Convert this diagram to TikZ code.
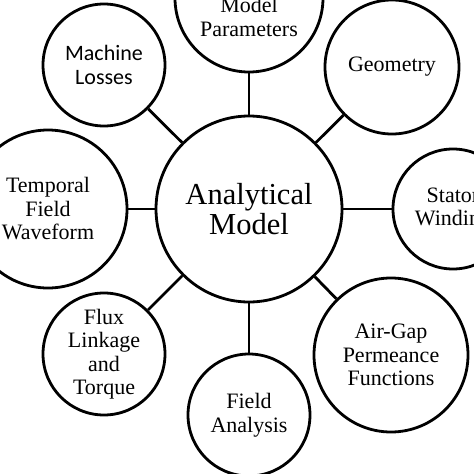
\documentclass[tikz,border=0pt]{standalone}
\usepackage{fontspec}
\setmainfont{Liberation Serif}
\newfontfamily\calib{Carlito}
\begin{document}
\begin{tikzpicture}[x=1pt,y=-1pt,
  bub/.style={circle,draw,line width=2.8pt,inner sep=0pt,align=center,
    font=\fontsize{22}{23.5}\selectfont},
  lbl/.style={align=center,inner sep=0pt,font=\fontsize{22}{23.5}\selectfont},
  link/.style={line width=2.8pt}]
\useasboundingbox (0,0) rectangle (474,474);
\clip (0,0) rectangle (474,474);
\node[bub,minimum size=186pt,font=\fontsize{30.5}{30}\selectfont] (am) at (249,209) {Analytical\\Model};
\node[bub,minimum size=148pt] (mp) at (249,-2) {};
\node[lbl] (mpt) at (249,17) {Model\\Parameters};
\node[bub,minimum size=134pt] (geo) at (392,67) {Geometry};
\node[bub,minimum size=120pt] (sw) at (453,209) {Stator\\Winding};
\node[bub,minimum size=154pt] (ag) at (391,355) {Air-Gap\\Permeance\\Functions};
\node[bub,minimum size=122pt] (fa) at (249,415) {Field\\Analysis};
\node[bub,minimum size=122pt] (fl) at (104,354) {Flux\\Linkage\\and\\Torque};
\node[bub,minimum size=158pt] (tf) at (48,209) {Temporal\\Field\\Waveform};
\node[bub,minimum size=122pt,font=\calib\fontsize{22}{24}\selectfont] (ml) at (104,65) {Machine\\Losses};
\foreach \s in {mp,geo,sw,ag,fa,fl,tf,ml}
  \draw[link] (am) -- (\s);
\end{tikzpicture}
\end{document}
